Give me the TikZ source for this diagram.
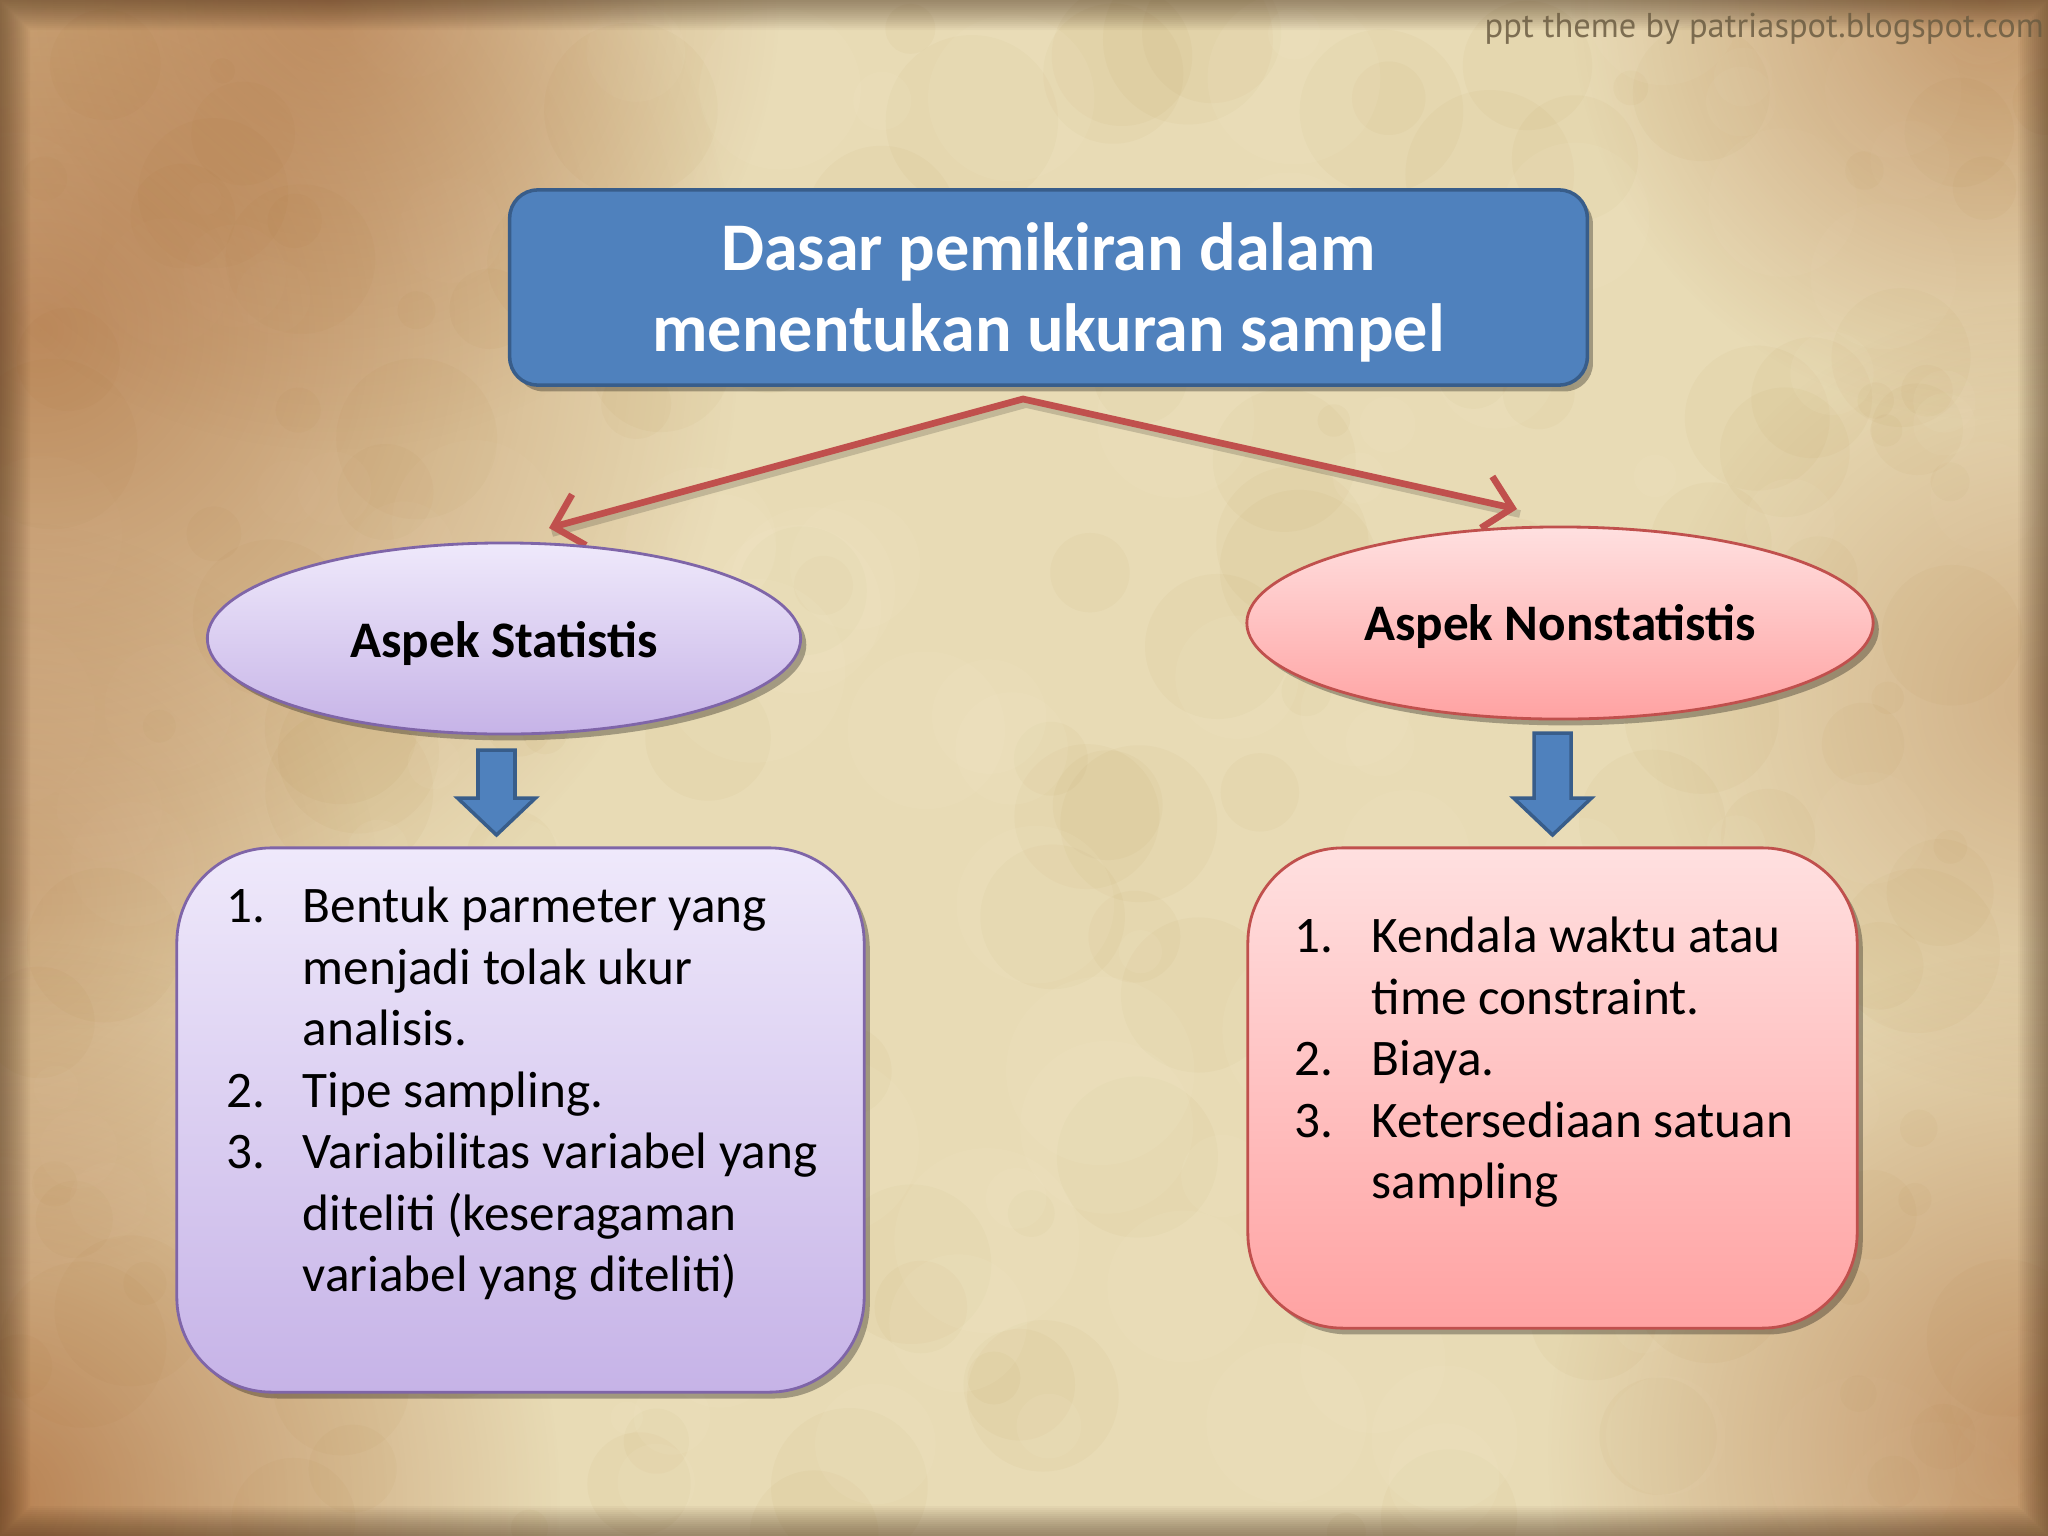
\documentclass[tikz,border=0pt]{standalone}
\usepackage{fontspec}
\setmainfont{Carlito}
\newfontfamily\wmfont{PT Sans}
\usetikzlibrary{shapes.geometric,arrows.meta,shadows,calc,fadings}
\definecolor{tbfill}{HTML}{4F81BD}
\definecolor{tbline}{HTML}{385D8A}
\definecolor{redline}{HTML}{C0504D}
\definecolor{lavtop}{HTML}{EFE9FB}
\definecolor{lavbot}{HTML}{C6B3E7}
\definecolor{lavline}{HTML}{7F65A8}
\definecolor{pinktop}{HTML}{FFE0E0}
\definecolor{pinkbot}{HTML}{FFA2A2}
\definecolor{pinkline}{HTML}{C0504D}
\definecolor{pc1}{HTML}{E8DBB5}
\definecolor{pc2}{HTML}{DCC894}
\definecolor{pc3}{HTML}{BE9858}
\definecolor{pc4}{HTML}{7A4E24}
\definecolor{spotdark}{HTML}{B08E44}
\definecolor{spotlight}{HTML}{F4EBCC}
\definecolor{rustcol}{HTML}{9A4A18}
\definecolor{edgecol}{HTML}{3E2410}
\definecolor{wmcolor}{HTML}{6B5C42}
\pgfdeclareradialshading{parch}{\pgfpoint{0bp}{0bp}}{color(0bp)=(pc1); color(30bp)=(pc1); color(45bp)=(pc2); color(55bp)=(pc3); color(71bp)=(pc4)}
\tikzfading[name=softblob, inner color=transparent!0, outer color=transparent!100]
\tikzset{
  stain/.style={fill=rustcol, path fading=softblob, fit fading=true},
  myshadow/.style={drop shadow={shadow xshift=1.6pt,shadow yshift=-1.8pt,opacity=0.3,fill=black}},
  titlebox/.style={rectangle, rounded corners=0.28cm, fill=tbfill, draw=tbline, line width=1pt,
    minimum width=10.77cm, minimum height=1.95cm, inner sep=0pt, myshadow},
  titletext/.style={anchor=base, inner sep=0pt, text=white,
    font=\fontsize{19.4pt}{23.3pt}\selectfont\bfseries},
  ellbox/.style={ellipse, inner sep=0pt, line width=0.8pt, myshadow,
    font=\fontsize{14.57pt}{17.5pt}\selectfont\bfseries},
  listbox/.style={rectangle, rounded corners=0.95cm, inner sep=0pt, line width=0.8pt, myshadow},
  listtext/.style={anchor=north west, inner sep=0pt, font=\fontsize{14.57pt}{17.48pt}\selectfont},
  redarrow/.style={draw=redline, line width=1.9pt, line join=miter,
    {Straight Barb[length=7.5pt,width=15pt]}-{Straight Barb[length=7.5pt,width=15pt]}},
  redshadow/.style={draw=black, opacity=0.16, line width=2.2pt, line join=miter},
  blockarrow/.style={fill=tbfill, draw=tbline, line width=1pt, line join=miter},
}
\begin{document}
\begin{tikzpicture}[x=0.01cm,y=-0.01cm]
\useasboundingbox (0,0) rectangle (2048,1536);
\clip (0,0) rectangle (2048,1536);
% parchment background
\shade[shading=parch] (0,0) rectangle (2048,1536);
\pgfmathsetseed{17}
\foreach \i in {1,...,170}{
  \pgfmathsetmacro\px{rnd*2048}
  \pgfmathsetmacro\py{rnd*1536}
  \pgfmathsetmacro\pr{12+rnd*75}
  \fill[spotdark,opacity=0.05] (\px,\py) circle[radius=\pr];
}
\foreach \i in {1,...,110}{
  \pgfmathsetmacro\px{rnd*2048}
  \pgfmathsetmacro\py{rnd*1536}
  \pgfmathsetmacro\pr{15+rnd*80}
  \fill[spotlight,opacity=0.12] (\px,\py) circle[radius=\pr];
}
% rusty stains (soft)
\fill[stain,fill opacity=0.55] (40,330) circle[radius=700];
\fill[stain,fill opacity=0.40] (330,0) circle[radius=450];
\fill[stain,fill opacity=0.30] (0,900) circle[radius=380];
\fill[stain,fill opacity=0.60] (0,1500) circle[radius=560];
\fill[stain,fill opacity=0.50] (2048,1450) circle[radius=500];
\fill[stain,fill opacity=0.45] (1990,0) circle[radius=420];
\fill[stain,fill opacity=0.30] (2048,700) circle[radius=400];
% dark worn edges
\foreach \k in {0,2,...,30}{
  \fill[edgecol,opacity=0.035,even odd rule] (0,0) rectangle (2048,1536) (\k,\k) rectangle (2048-\k,1536-\k);
}
% watermark
\node[anchor=base west, inner sep=0pt, text=wmcolor, opacity=0.85, font=\wmfont\fontsize{9.8pt}{12pt}\selectfont] (wm) at (1484,37) {ppt theme by patriaspot.blogspot.com};
% title
\node[titlebox] (title) at (1048.5,287.5) {};
\node[titletext] (titleT) at (1048.5,270) {\begin{tabular}[t]{@{}c@{}}Dasar pemikiran dalam\\menentukan ukuran sampel\end{tabular}};
% red connectors
\coordinate (apex) at (1023,399);
\coordinate (tipL) at (549,528);
\coordinate (tipR) at (1517,509);
\draw[redshadow] ($(tipL)+(3,5)$) -- ($(apex)+(3,5)$) -- ($(tipR)+(3,5)$);
\draw[redarrow] (tipL) -- (apex) -- (tipR);
% ellipses
\node[ellbox, top color=lavtop, bottom color=lavbot, draw=lavline, minimum width=5.93cm, minimum height=1.91cm, text height=0.5cm, text depth=0.13cm] (aspS) at (504,638.5) {Aspek Statistis};
\node[ellbox, top color=pinktop, bottom color=pinkbot, draw=pinkline, minimum width=6.26cm, minimum height=1.92cm, text height=0.5cm, text depth=0.15cm] (aspN) at (1560,623) {Aspek Nonstatistis};
% block arrows
\draw[blockarrow] (478,750) -- (515,750) -- (515,798) -- (535.5,798) -- (496.5,835) -- (457.5,798) -- (478,798) -- cycle;
\draw[blockarrow] (1534,733) -- (1571,733) -- (1571,798) -- (1591.5,798) -- (1552.5,835) -- (1513.5,798) -- (1534,798) -- cycle;
% list boxes
\node[listbox, top color=lavtop, bottom color=lavbot, draw=lavline, minimum width=6.87cm, minimum height=5.44cm] (boxS) at (520.5,1120) {};
\node[listbox, top color=pinktop, bottom color=pinkbot, draw=pinkline, minimum width=6.09cm, minimum height=4.80cm] (boxN) at (1552.5,1088) {};
\node[listtext] (txtS) at (226,879) {\begin{tabular}{@{}p{0.76cm}@{}l@{}}
1. & Bentuk parmeter yang\\
   & menjadi tolak ukur\\
   & analisis.\\
2. & Tipe sampling.\\
3. & Variabilitas variabel yang\\
   & diteliti (keseragaman\\
   & variabel yang diteliti)
\end{tabular}};
\node[listtext] (txtN) at (1294,909) {\begin{tabular}{@{}p{0.77cm}@{}l@{}}
1. & Kendala waktu atau\\
   & time constraint.\\
2. & Biaya.\\
3. & Ketersediaan satuan\\
   & sampling
\end{tabular}};
\end{tikzpicture}
\end{document}
